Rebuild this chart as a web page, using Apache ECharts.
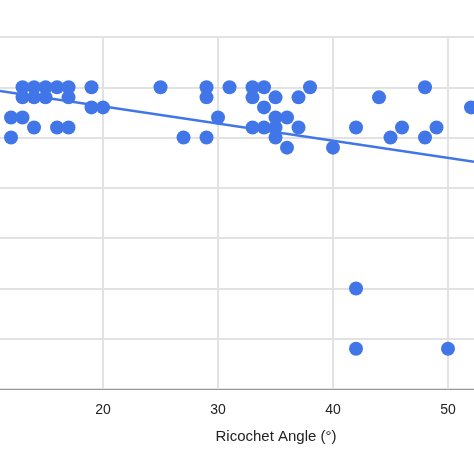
<!DOCTYPE html>
<html lang="en">
<head>
    <meta charset="UTF-8">
    <title></title>
    <script type="text/javascript" src="https://fastly.jsdelivr.net/npm/echarts@6.0.0/dist/echarts.min.js"></script>
    <style>body{margin:0;background:#fff}</style>
</head>
<body>
<div id="chart" style="width:474px;height:474px"></div>
<script type="text/javascript">
    // ricochet angle (x) vs value (y)
    var angles = [13,14,15,16,17,19,25,29,31,33,34,38,48,
                  13,14,15,17,29,33,35,37,44,
                  19,20,34,52,
                  12,13,30,35,36,
                  14,16,17,33,34,35,37,42,46,49,
                  12,27,29,35,45,48,
                  36,40,
                  42,42,50];
    var values = [30,30,30,30,30,30,30,30,30,30,30,30,30,
                  29,29,29,29,29,29,29,29,29,
                  28,28,28,28,
                  27,27,27,27,27,
                  26,26,26,26,26,26,26,26,26,26,
                  25,25,25,25,25,25,
                  24,24,
                  10,4,4];
    var xTicks = [20, 30, 40, 50];

    var pts = angles.map(function(a, i){ return [a, values[i]]; });

    // least squares fit
    var n = pts.length, sx = 0, sy = 0, sxx = 0, sxy = 0;
    pts.forEach(function(p){ sx += p[0]; sy += p[1]; sxx += p[0]*p[0]; sxy += p[0]*p[1]; });
    var slope = (n*sxy - sx*sy) / (n*sxx - sx*sx);
    var icpt = (sy - slope*sx) / n;
    var fit = [[11.04, icpt + slope*11.04], [52.26, icpt + slope*52.26]];

    var myChart = echarts.init(document.getElementById('chart'));
    var option = {
        animation: false,
        grid: {left: 0, right: 0, top: 37, bottom: 85, containLabel: false, outerBoundsMode: 'none'},
        xAxis: {
            type: 'value', min: 11.04, max: 52.26,
            name: 'Ricochet Angle (°)', nameLocation: 'middle', nameGap: 40,
            nameTextStyle: {fontSize: 15, color: '#222', fontFamily: 'Liberation Sans', padding: [0, 0, 0, 78]},
            axisLine: {lineStyle: {color: '#999'}},
            axisTick: {show: false, customValues: xTicks},
            axisLabel: {fontSize: 14, color: '#222', margin: 14, fontFamily: 'Liberation Sans', customValues: xTicks},
            splitLine: {lineStyle: {color: '#e2e2e2', width: 2}}
        },
        yAxis: {
            type: 'value', min: 0, max: 35, interval: 5,
            axisLabel: {show: false}, axisTick: {show: false}, axisLine: {show: false},
            splitLine: {lineStyle: {color: '#e2e2e2', width: 2}}
        },
        series: [{
            type: 'line', data: fit, symbol: 'none', silent: true,
            lineStyle: {color: '#4176e8', width: 2.5}
        }, {
            type: 'scatter', data: pts, symbolSize: 14,
            itemStyle: {color: '#4176e8', opacity: 1}
        }]
    };
    myChart.setOption(option);
</script>
</body>
</html>
